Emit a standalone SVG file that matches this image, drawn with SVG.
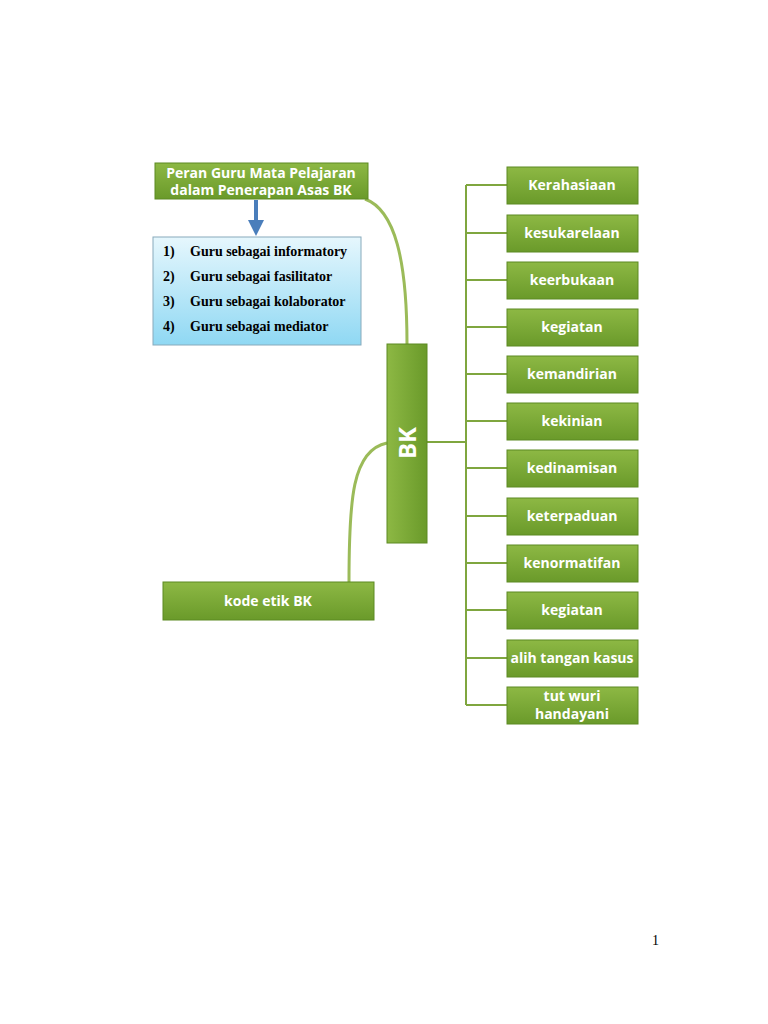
<svg xmlns="http://www.w3.org/2000/svg" width="768" height="1024" viewBox="0 0 768 1024">
<defs>
<linearGradient id="g" x1="0" y1="0" x2="0" y2="1"><stop offset="0" stop-color="#8db844"/><stop offset="1" stop-color="#6a9a2a"/></linearGradient>
<linearGradient id="gv" x1="0" y1="0" x2="1" y2="0"><stop offset="0" stop-color="#8db844"/><stop offset="1" stop-color="#6a9a2a"/></linearGradient>
<linearGradient id="b" x1="0" y1="0" x2="0" y2="1"><stop offset="0" stop-color="#e6f7fd"/><stop offset="1" stop-color="#8fd8f3"/></linearGradient>
<marker id="ah" viewBox="0 0 10 10" refX="5" refY="5" markerWidth="4" markerHeight="4" orient="auto"><path d="M0,0L10,5L0,10z" fill="#4a7ebb"/></marker>
</defs>
<style>
.n{fill:url(#g);stroke:#5d8a22;stroke-width:1}
.t{font-family:"Open Sans","DejaVu Sans",sans-serif;font-size:14px;font-weight:bold;fill:#fff;text-anchor:middle}
.l{font-family:"Liberation Serif",serif;font-size:14px;font-weight:bold;fill:#000}
.c{fill:none;stroke:#9bbb59;stroke-width:3}
.k{fill:none;stroke:#7fa63f;stroke-width:2}
</style>
<rect width="768" height="1024" fill="#fff"/>
<g id="connectors">
<path class="c" d="M365,199 C395,210 407,260 407,344"/>
<path class="c" d="M349,582 C349,500 352,450 387,443"/>
<path class="k" d="M427,442H466M466,185V705M466,185H507M466,233H507M466,280H507M466,327H507M466,374H507M466,421H507M466,468H507M466,516H507M466,563H507M466,610H507M466,658H507M466,705H507"/>
<path d="M256,200V228" stroke="#4a7ebb" stroke-width="4" marker-end="url(#ah)"/>
</g>
<g id="top"><rect class="n" x="155" y="163" width="213" height="36"/><text class="t" x="261" y="178">Peran Guru Mata Pelajaran</text><text class="t" x="261" y="195">dalam Penerapan Asas BK</text></g>
<g id="list"><rect x="153" y="237" width="208" height="108" fill="url(#b)" stroke="#8ab" stroke-width="1"/>
<text class="l" x="163" y="256">1)</text><text class="l" x="190" y="256">Guru sebagai informatory</text>
<text class="l" x="163" y="281">2)</text><text class="l" x="190" y="281">Guru sebagai fasilitator</text>
<text class="l" x="163" y="306">3)</text><text class="l" x="190" y="306">Guru sebagai kolaborator</text>
<text class="l" x="163" y="331">4)</text><text class="l" x="190" y="331">Guru sebagai mediator</text></g>
<g id="bk"><rect x="387" y="344" width="40" height="199" fill="url(#gv)" stroke="#5d8a22"/><text class="t" style="font-size:24px" transform="translate(416,443) rotate(-90)">BK</text></g>
<g id="kode"><rect class="n" x="163" y="582" width="211" height="38"/><text class="t" x="268" y="606">kode etik BK</text></g>
<g id="r1"><rect class="n" x="507" y="167" width="131" height="37"/><text class="t" x="572" y="190">Kerahasiaan</text></g>
<g id="r2"><rect class="n" x="507" y="215" width="131" height="37"/><text class="t" x="572" y="238">kesukarelaan</text></g>
<g id="r3"><rect class="n" x="507" y="262" width="131" height="37"/><text class="t" x="572" y="285">keerbukaan</text></g>
<g id="r4"><rect class="n" x="507" y="309" width="131" height="37"/><text class="t" x="572" y="332">kegiatan</text></g>
<g id="r5"><rect class="n" x="507" y="356" width="131" height="37"/><text class="t" x="572" y="379">kemandirian</text></g>
<g id="r6"><rect class="n" x="507" y="403" width="131" height="37"/><text class="t" x="572" y="426">kekinian</text></g>
<g id="r7"><rect class="n" x="507" y="450" width="131" height="37"/><text class="t" x="572" y="473">kedinamisan</text></g>
<g id="r8"><rect class="n" x="507" y="498" width="131" height="37"/><text class="t" x="572" y="521">keterpaduan</text></g>
<g id="r9"><rect class="n" x="507" y="545" width="131" height="37"/><text class="t" x="572" y="568">kenormatifan</text></g>
<g id="r10"><rect class="n" x="507" y="592" width="131" height="37"/><text class="t" x="572" y="615">kegiatan</text></g>
<g id="r11"><rect class="n" x="507" y="640" width="131" height="37"/><text class="t" x="572" y="663">alih tangan kasus</text></g>
<g id="r12"><rect class="n" x="507" y="687" width="131" height="37"/><text class="t" x="572" y="701">tut wuri</text><text class="t" x="572" y="719">handayani</text></g>
<text x="652" y="945" font-family="Liberation Serif,serif" font-size="14">1</text>
</svg>
